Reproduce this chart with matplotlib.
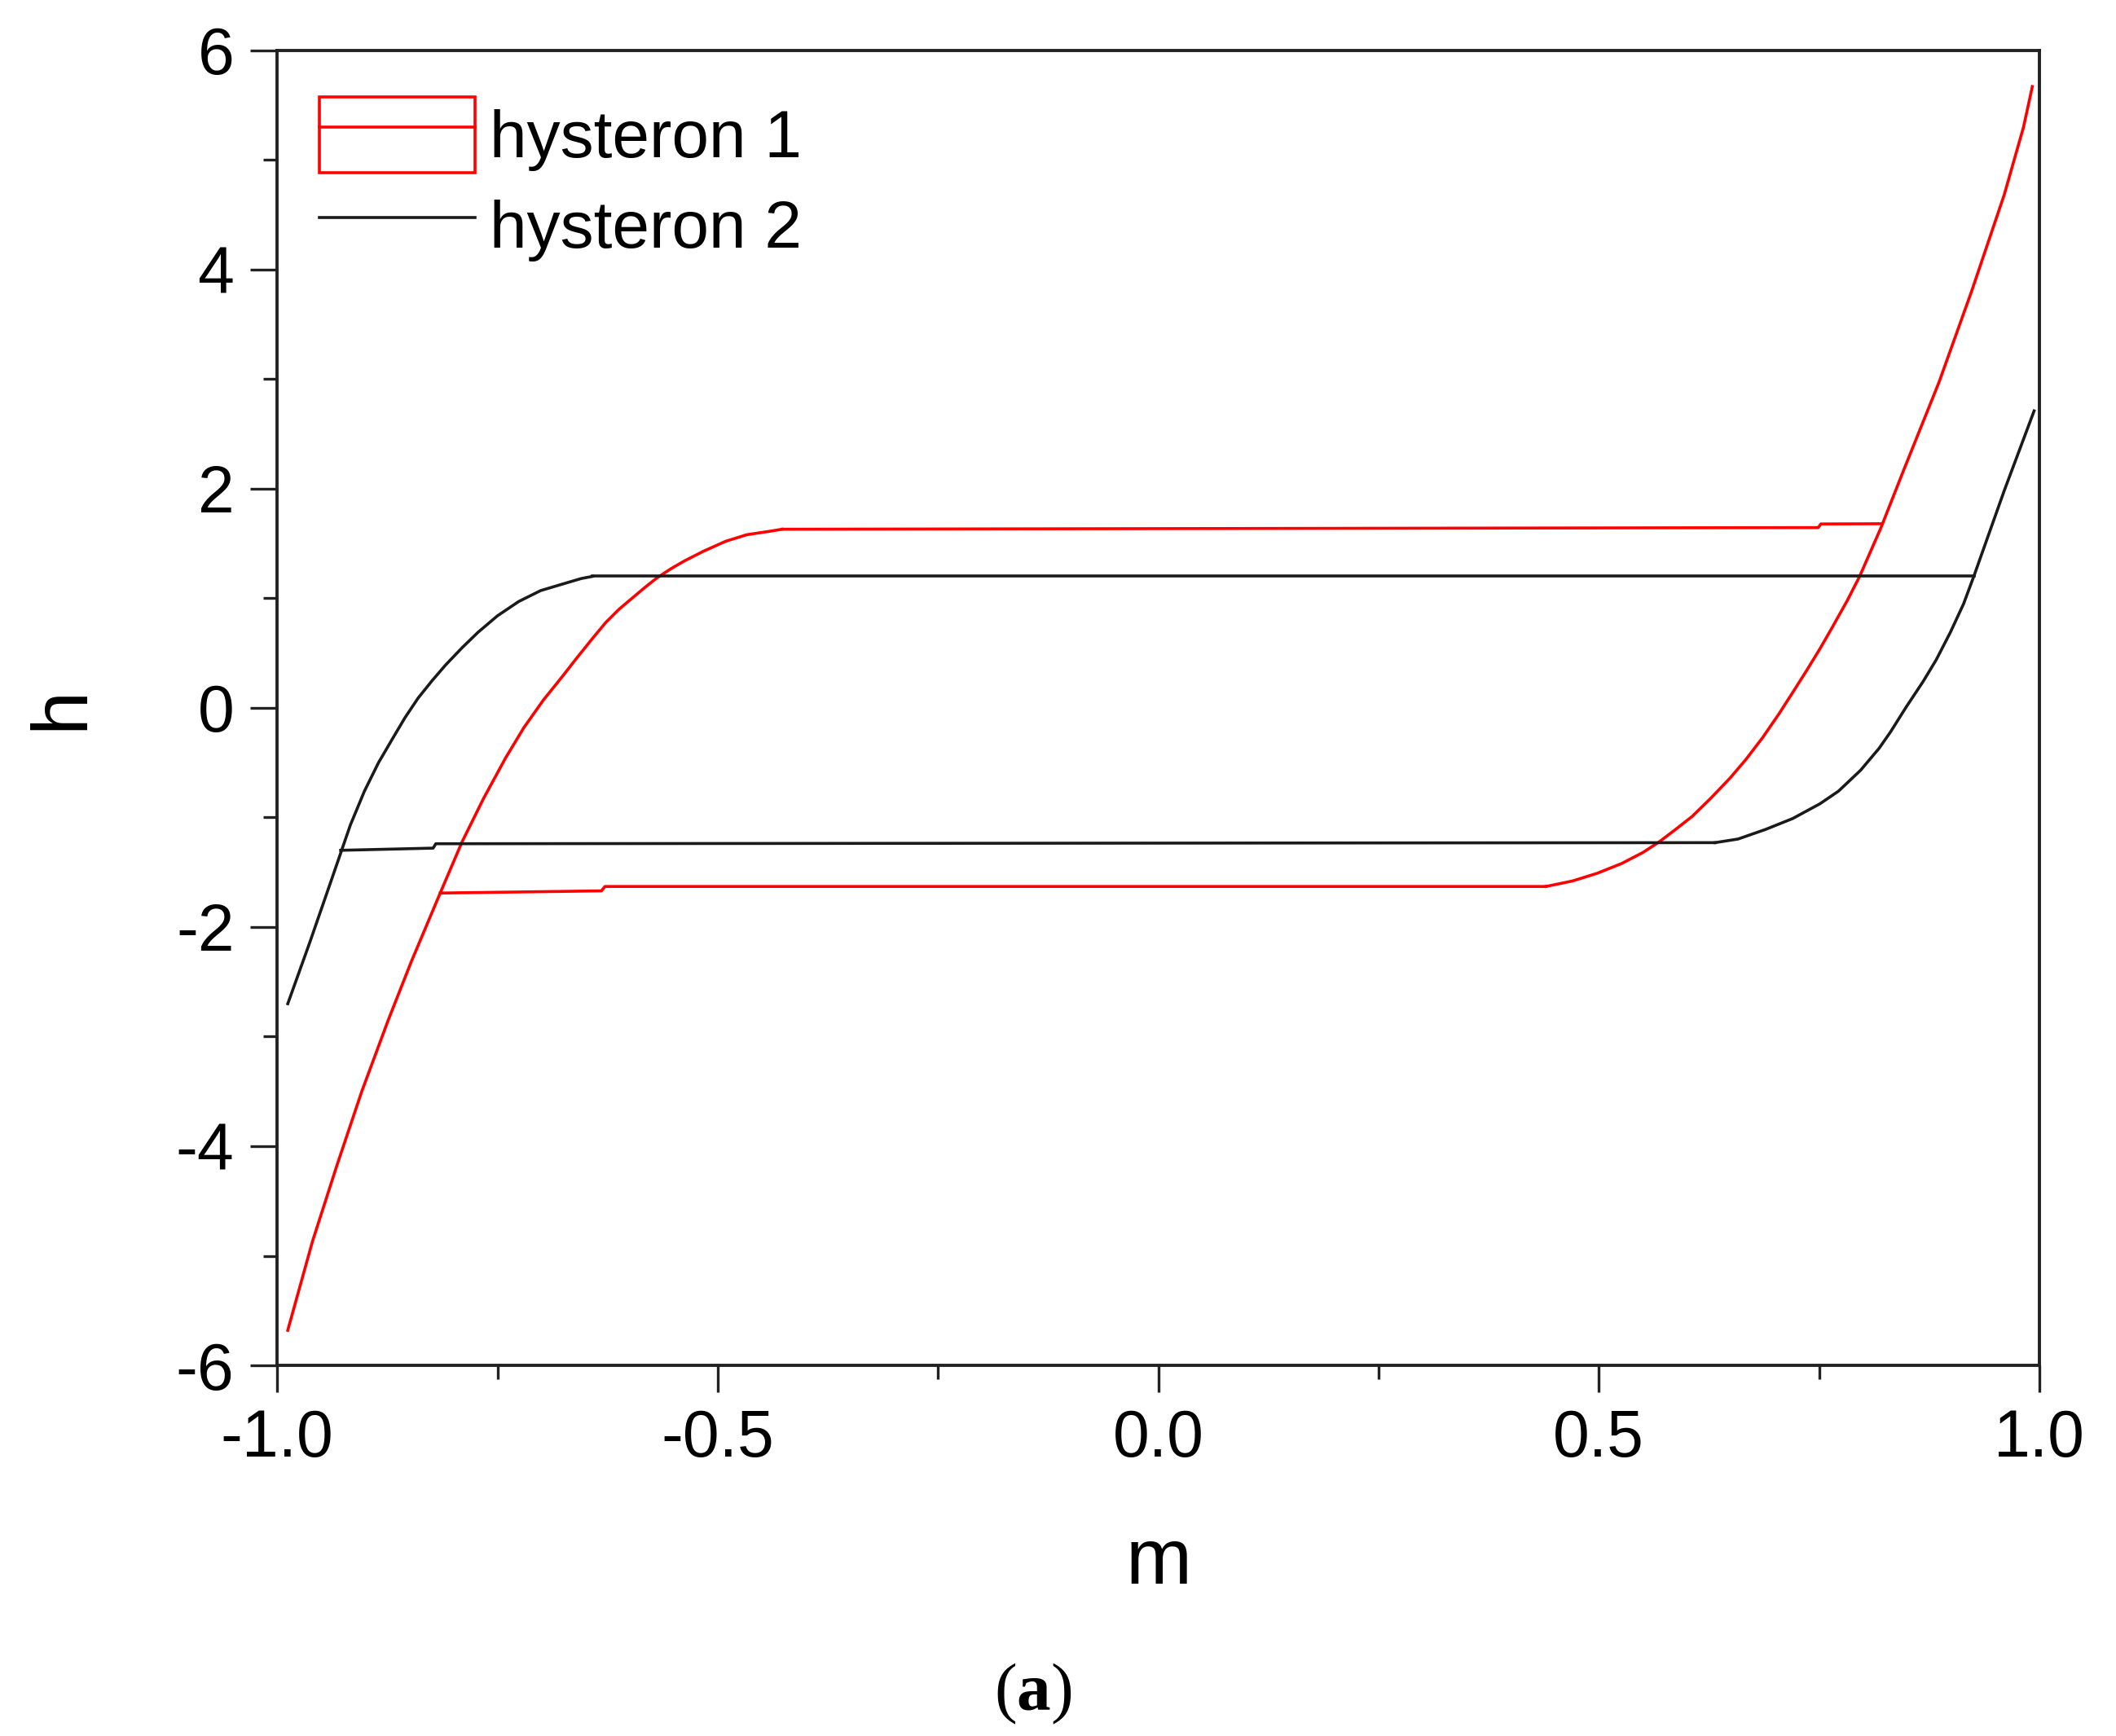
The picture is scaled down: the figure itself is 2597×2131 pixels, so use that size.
import matplotlib
matplotlib.use('Agg')
import matplotlib.pyplot as plt
from matplotlib.patches import Rectangle
from matplotlib.ticker import MultipleLocator

# --- data --- #
# hysteron 1 (red): left rising branch, right rising branch, two plateaus
red_left_m = [-0.988, -0.960, -0.932, -0.904, -0.874, -0.848, -0.815, -0.790, -0.766, -0.741,
              -0.720, -0.698, -0.676, -0.660, -0.643, -0.627, -0.612, -0.584, -0.570, -0.553,
              -0.538, -0.516, -0.491, -0.467, -0.442, -0.427]
red_left_h = [-5.68, -4.87, -4.17, -3.50, -2.85, -2.32, -1.69, -1.22, -0.83, -0.46,
              -0.18, 0.07, 0.29, 0.455, 0.625, 0.78, 0.90, 1.09, 1.18, 1.27,
              1.34, 1.43, 1.52, 1.58, 1.61, 1.63]
red_right_m = [0.440, 0.470, 0.498, 0.526, 0.550, 0.569, 0.587, 0.606, 0.627, 0.649,
               0.667, 0.686, 0.704, 0.720, 0.735, 0.751, 0.766, 0.782, 0.796, 0.820,
               0.846, 0.886, 0.923, 0.960, 0.982, 0.992]
red_right_h = [-1.63, -1.58, -1.51, -1.42, -1.32, -1.22, -1.11, -0.99, -0.825, -0.64,
               -0.47, -0.27, -0.06, 0.14, 0.33, 0.54, 0.75, 0.98, 1.20, 1.64,
               2.17, 2.97, 3.80, 4.68, 5.30, 5.67]
red_top_m = [-0.427, 0.749, 0.752, 0.820]
red_top_h = [1.63, 1.645, 1.678, 1.68]
red_bot_m = [0.440, -0.628, -0.632, -0.815]
red_bot_h = [-1.63, -1.63, -1.67, -1.69]

# hysteron 2 (black)
blk_left_m = [-0.988, -0.963, -0.938, -0.917, -0.901, -0.885, -0.869, -0.855, -0.840, -0.824,
              -0.809, -0.790, -0.772, -0.750, -0.726, -0.701, -0.676, -0.655, -0.642]
blk_left_h = [-2.70, -2.14, -1.56, -1.07, -0.76, -0.50, -0.28, -0.09, 0.09, 0.25,
              0.39, 0.55, 0.69, 0.84, 0.97, 1.07, 1.13, 1.18, 1.20]
blk_right_m = [0.632, 0.658, 0.689, 0.720, 0.751, 0.772, 0.797, 0.818, 0.831, 0.849,
               0.868, 0.883, 0.899, 0.914, 0.926, 0.960, 0.994]
blk_right_h = [-1.23, -1.197, -1.11, -1.01, -0.875, -0.76, -0.57, -0.37, -0.22, 0.01,
               0.24, 0.44, 0.69, 0.95, 1.21, 1.98, 2.71]
blk_top_m = [-0.642, 0.926]
blk_top_h = [1.20, 1.20]
blk_bot_m = [0.632, -0.820, -0.823, -0.928]
blk_bot_h = [-1.23, -1.24, -1.28, -1.30]

x_ticks = [-1.0, -0.5, 0.0, 0.5, 1.0]
y_ticks = [-6, -4, -2, 0, 2, 4, 6]

plt.rcParams['font.family'] = ['Liberation Sans', 'DejaVu Sans']
plt.rcParams['mathtext.fontset'] = 'custom'
plt.rcParams['mathtext.rm'] = 'Liberation Serif'
plt.rcParams['mathtext.bf'] = 'Liberation Serif:bold'

fig = plt.figure(figsize=(25.97, 21.31), dpi=100)
ax = fig.add_axes([0.131, 0.2135, 0.8328, 0.7575])

lw = 2.6
red = '#ff0000'
blk = '#1a1a1a'
red_line, = ax.plot(red_left_m, red_left_h, c=red, lw=lw)
ax.plot(red_top_m, red_top_h, c=red, lw=lw)
ax.plot(red_right_m, red_right_h, c=red, lw=lw)
ax.plot(red_bot_m, red_bot_h, c=red, lw=lw)

blk_line, = ax.plot(blk_left_m, blk_left_h, c=blk, lw=lw)
ax.plot(blk_top_m, blk_top_h, c=blk, lw=lw)
ax.plot(blk_right_m, blk_right_h, c=blk, lw=lw)
ax.plot(blk_bot_m, blk_bot_h, c=blk, lw=lw)

ax.set_xlim(-1.0, 1.0)
ax.set_ylim(-6, 6)
ax.set_xticks(x_ticks)
ax.set_xticklabels(['%.1f' % v for v in x_ticks])
ax.set_yticks(y_ticks)
ax.set_yticklabels([str(v) for v in y_ticks])
ax.xaxis.set_minor_locator(MultipleLocator(0.25))
ax.yaxis.set_minor_locator(MultipleLocator(1))

for sp in ax.spines.values():
    sp.set_linewidth(2.8)
    sp.set_color('#222222')
ax.tick_params(which='major', direction='out', length=24, width=2.4, labelsize=58, pad=14, color='#222222')
ax.tick_params(which='minor', direction='out', length=12, width=2.4, color='#222222')
ax.tick_params(top=False, right=False, which='both')

ax.set_xlabel('m', fontsize=70, labelpad=50)
ax.set_ylabel('h', fontsize=70, labelpad=68)

# legend: loop symbol (box with a centre line) for hysteron 1
box = Rectangle((0, 0), 1, 1, fill=False, edgecolor=red, lw=lw)
ax.legend([(box, red_line), blk_line], ['hysteron 1', 'hysteron 2'],
          loc='upper left', bbox_to_anchor=(0.024, 0.9647), bbox_transform=ax.transAxes,
          frameon=False, fontsize=59, handlelength=2.33, handleheight=1.37,
          handletextpad=0.22, labelspacing=0.22, borderpad=0, borderaxespad=0)

fig.text(0.488, 0.024, r'($\mathbf{a}$)', fontsize=60, ha='center', va='center',
         family='Liberation Serif')

fig.savefig('out.png', dpi=100)
